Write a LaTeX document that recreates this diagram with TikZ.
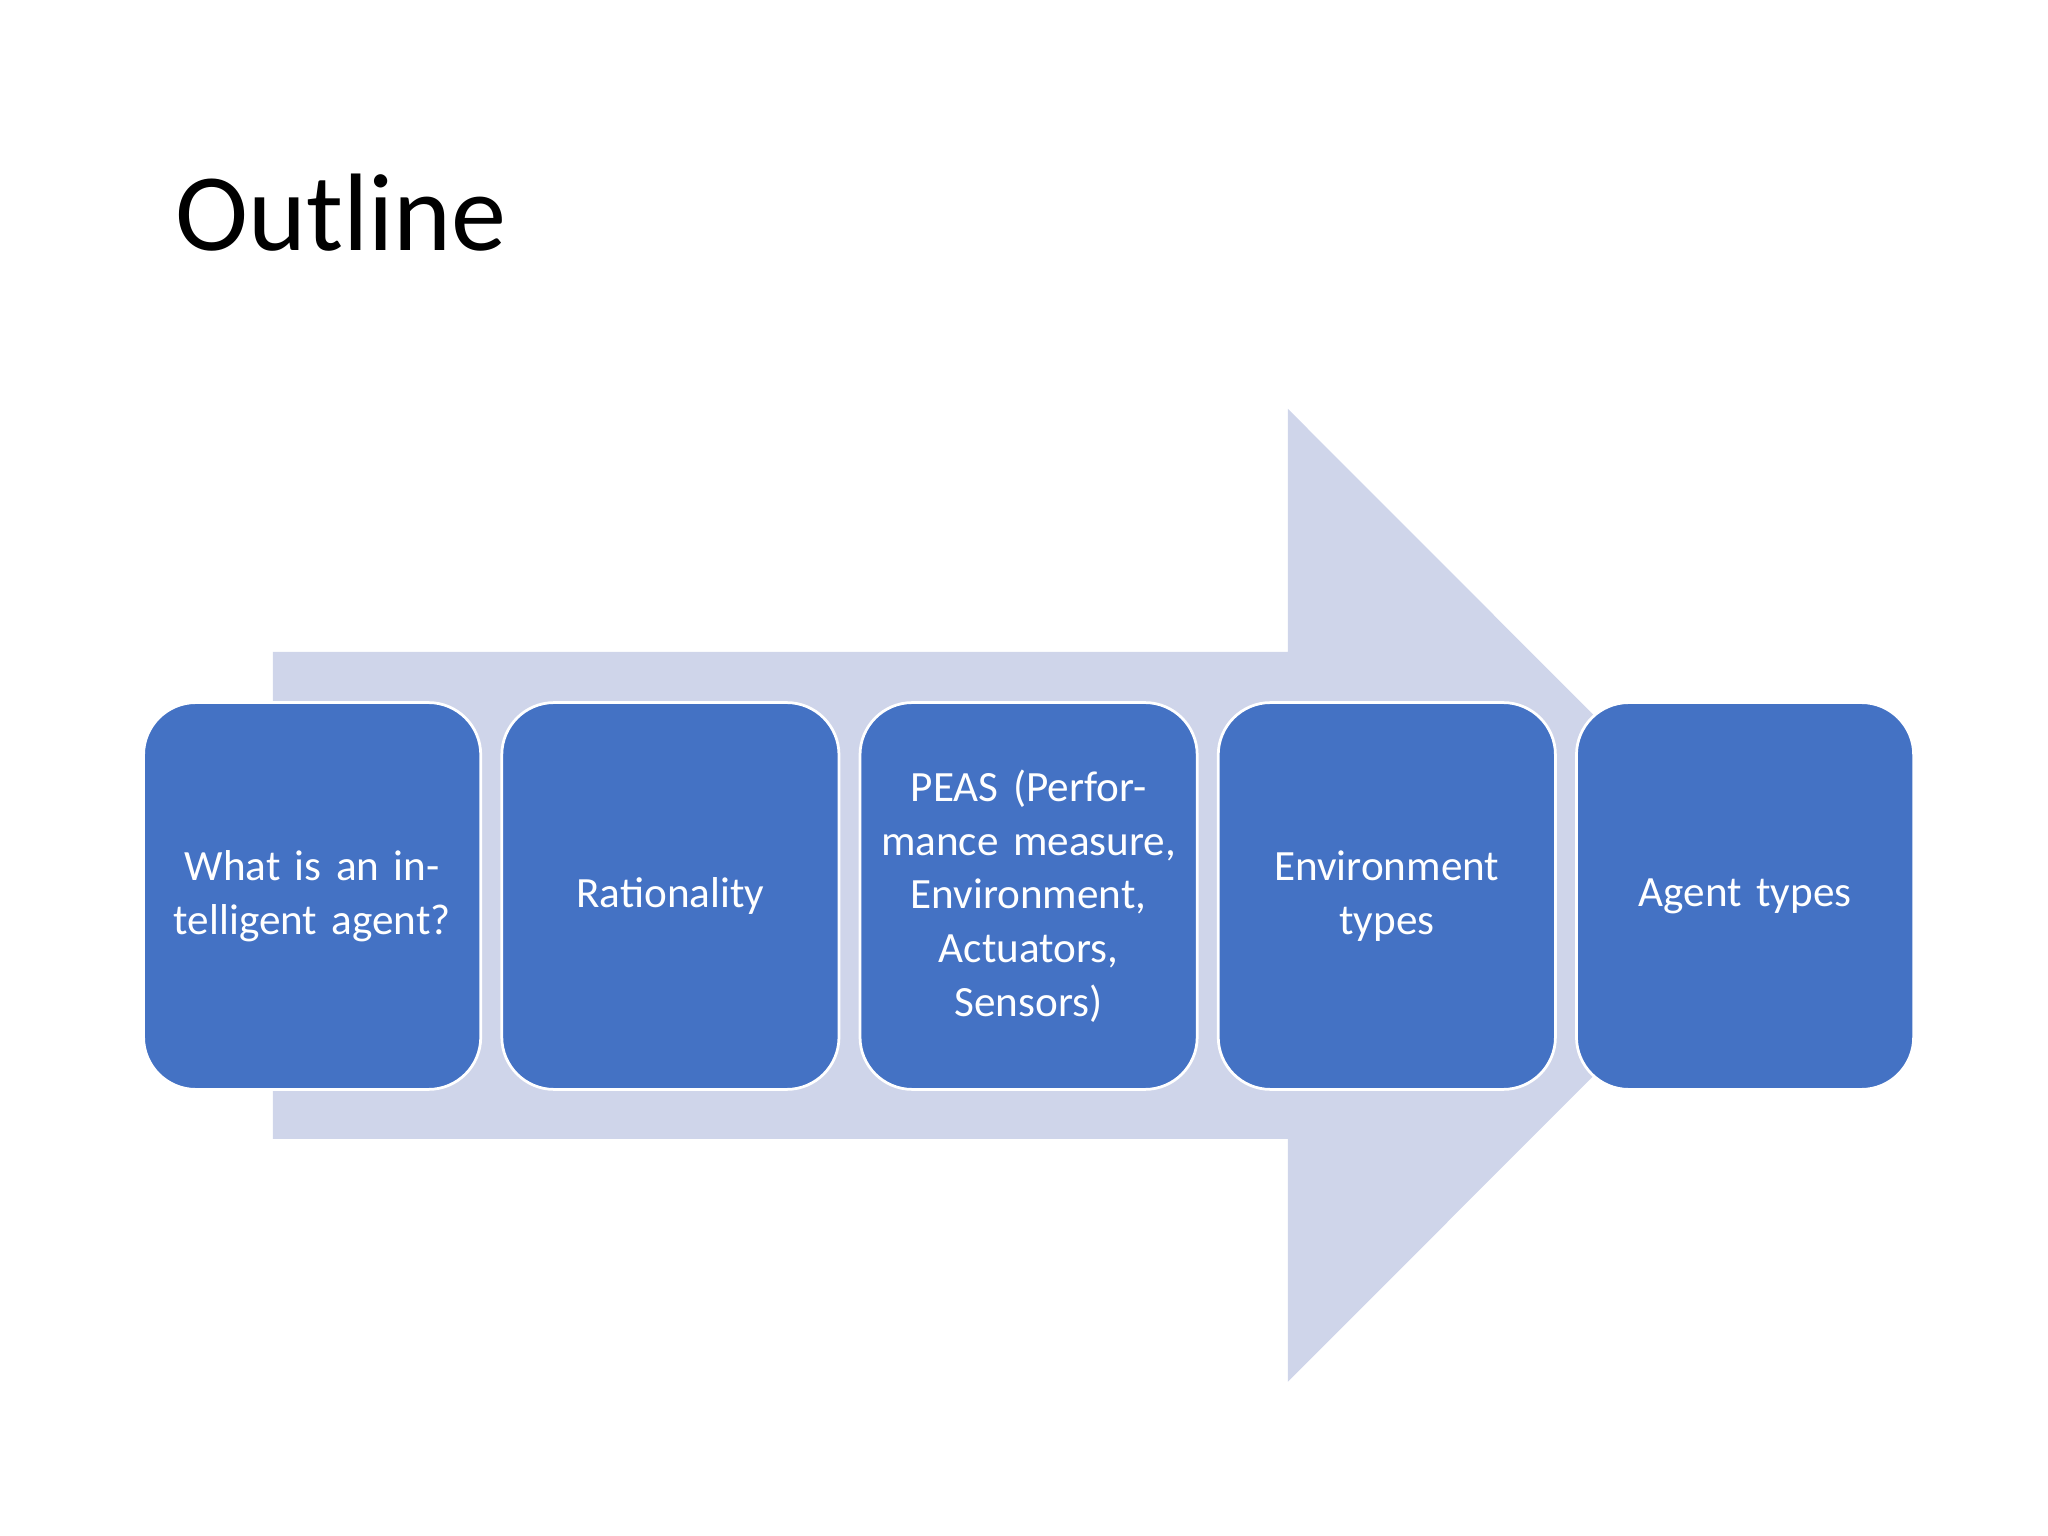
\documentclass[tikz,border=0pt]{standalone}
\usepackage{fontspec}
\setmainfont{Carlito}
\usetikzlibrary{positioning}
\definecolor{arrowfill}{HTML}{CFD5EA}
\definecolor{boxfill}{HTML}{4472C4}

\begin{document}
\begin{tikzpicture}[x=0.01cm,y=-0.01cm,
	outlinebox/.style={draw=white,line width=0.6pt,fill=boxfill,rounded corners=0.4cm,
		minimum width=2.58cm,minimum height=2.96cm,text width=2.3cm,align=center,
		text=white,font=\fontsize{9.4}{11.7}\selectfont,inner sep=0pt}]
	\useasboundingbox (0,0) rectangle (1568,1176);
	\node[anchor=base west,font=\fontsize{24}{28}\selectfont] (title) at (122,192) {Outline};
	% big arrow behind the steps
	\fill[arrowfill] (209,499) -- (986,499) -- (986,313) -- (1358,685.5)
		-- (986,1058) -- (986,872) -- (209,872) -- cycle;
	\node[outlinebox] (s1) at (239,686) {What is an intelligent agent?};
	\node[outlinebox,right=0.14cm of s1] (s2) {Rationality};
	\node[outlinebox,right=0.14cm of s2] (s3) {PEAS (Performance measure, Environment, Actuators, Sensors)};
	\node[outlinebox,right=0.14cm of s3] (s4) {Environment types};
	\node[outlinebox,right=0.14cm of s4] (s5) {Agent types};
\end{tikzpicture}
\end{document}
